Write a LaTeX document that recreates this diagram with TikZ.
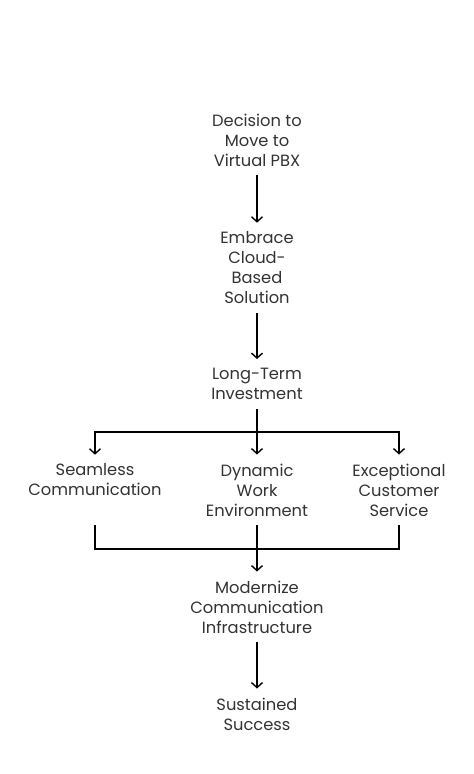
\documentclass[tikz,border=0pt]{standalone}
\usepackage{fontspec}
\setmainfont{Poppins}
\usetikzlibrary{arrows.meta}
\definecolor{ink}{HTML}{333333}
\tikzset{
  lbl/.style={align=center, inner xsep=0pt, inner ysep=9pt, text=ink, font=\fontsize{16.3}{20}\selectfont},
  arr/.style={draw=black, line width=1.4pt, -{Straight Barb[length=5pt,width=11pt,line width=1.4pt]}},
  ln/.style={draw=black, line width=1.4pt}
}
\begin{document}
\begin{tikzpicture}[x=1pt,y=-1pt]
\useasboundingbox[fill=white] (0,0) rectangle (474,774);
\node[lbl] (n1) at (257,140) {Decision to\\Move to\\Virtual PBX};
\node[lbl] (n2) at (257,268) {Embrace\\Cloud-\\Based\\Solution};
\node[lbl] (n3) at (257,384) {Long-Term\\Investment};
\node[lbl] (c1) at (95,480) {Seamless\\Communication};
\node[lbl] (c2) at (257,490) {Dynamic\\Work\\Environment};
\node[lbl] (c3) at (399,490) {Exceptional\\Customer\\Service};
\node[lbl] (n4) at (257,607) {Modernize\\Communication\\Infrastructure};
\node[lbl] (n5) at (257,714) {Sustained\\Success};
\coordinate (s1) at (257,432);
\coordinate (s2) at (257,549);
\draw[arr] (n1.south) -- (n2.north);
\draw[arr] (n2.south) -- (n3.north);
\draw[ln] (n3.south) -- (s1);
\draw[arr] (s1) -| (c1.north);
\draw[arr] (s1) -- (c2.north);
\draw[arr] (s1) -| (c3.north);
\draw[ln] (c1.south |- c2.south) |- (s2);
\draw[ln] (c3.south |- c2.south) |- (s2);
\draw[ln] (c2.south) -- (s2);
\draw[arr] (s2) -- (n4.north);
\draw[arr] (n4.south) -- (n5.north);
\end{tikzpicture}
\end{document}
